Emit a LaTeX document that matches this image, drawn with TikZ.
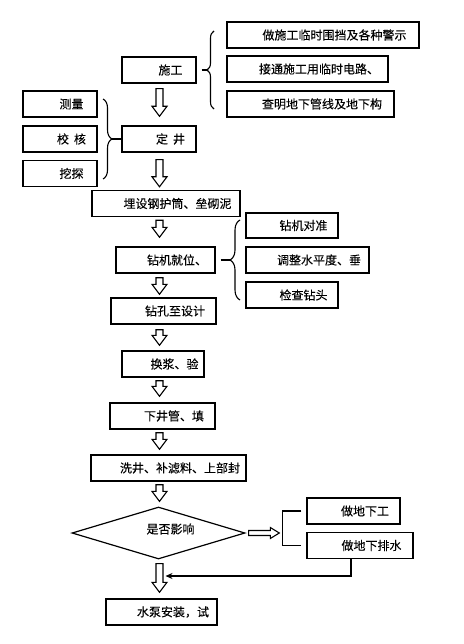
\documentclass[tikz,border=0pt]{standalone}
\usepackage{fontspec}
\setmainfont{Noto Sans CJK SC}[BoldFont=Noto Sans CJK SC, BoldFeatures={FakeBold=0.12}]
\usepackage{tikz}
\usetikzlibrary{positioning,calc,shapes.geometric,decorations.pathreplacing,arrows.meta}

\tikzset{
	box/.style={draw, line width=1.4pt, minimum height=26pt, inner sep=0pt,
		font=\fontsize{12}{14}\selectfont\bfseries, execute at begin node=\hspace*{23pt}},
	hollow/.style={draw, line width=1.1pt, fill=white, line join=miter},
	brc/.style={decorate, decoration={brace, amplitude=#1}, line width=1.1pt},
	link/.style={line width=1.1pt}
}

% hollow block arrow down the main column: from, to, gap at start, gap at end
\newcommand{\hdown}[4]{%
	\draw[hollow] let \p1=($(#1.south -| axis)+(0,#3)$), \p2=($(#2.north -| axis)-(0,#4)$) in
		(\x1-3.5pt,\y1) -- (\x1+3.5pt,\y1) -- (\x1+3.5pt,\y2+10pt) -- (\x1+7.5pt,\y2+10pt)
		-- (\x1,\y2) -- (\x1-7.5pt,\y2+10pt) -- (\x1-3.5pt,\y2+10pt) -- cycle;}

\begin{document}
\begin{tikzpicture}[x=1pt,y=-1pt]
\useasboundingbox (0,0) rectangle (463,644);
\coordinate (axis) at (159.5,0);

	\node[box, minimum width=74pt] (sg) at (159,70) {施工};
	\node[box, minimum width=192pt] (wd1) at (323,35) {做施工临时围挡及各种警示};
	\node[box, minimum width=161pt] (wd2) at (307.5,69) {接通施工用临时电路、};
	\node[box, minimum width=167pt] (wd3) at (310.5,104) {查明地下管线及地下构};
	\node[box, minimum width=74pt] (cl) at (60,104) {测量};
	\node[box, minimum width=74pt] (jh) at (60,139) {校\hspace{5pt}核};
	\node[box, minimum width=74pt] (wt) at (60,173.5) {挖探};
	\node[box, minimum width=74pt] (dj) at (159,139) {定\hspace{5pt}井};
	\node[box, minimum width=148pt] (mx) at (166,203.5) {埋设钢护筒、垒砌泥};
	\node[box, minimum width=99pt] (zj) at (165.5,260) {钻机就位、};
	\node[box, minimum width=92pt, minimum height=25pt] (dz) at (292,225.5) {钻机对准};
	\node[box, minimum width=123pt] (tz) at (307.5,260) {调整水平度、垂};
	\node[box, minimum width=92pt] (jc) at (292,295) {检查钻头};
	\node[box, minimum width=105pt] (zk) at (163.5,311) {钻孔至设计};
	\node[box, minimum width=82pt] (hj) at (163,364) {换浆、验};
	\node[box, minimum width=105pt] (xj) at (162.5,416) {下井管、填};
	\node[box, minimum width=155pt] (xw) at (168.5,468) {洗井、补滤料、上部封};
	\node[draw, diamond, aspect=3.3, minimum width=173pt, minimum height=52pt, inner sep=0pt,
		line width=1.2pt] (pd) at (158.5,533) {};
	\node[font=\fontsize{12}{14}\selectfont\bfseries, inner sep=0pt] (pdtext) at (170.5,529) {是否影响};
	\node[box, minimum width=93pt] (dg1) at (353.5,511) {做地下工};
	\node[box, minimum width=106pt] (dg2) at (360,545.5) {做地下排水};
	\node[box, minimum width=111pt] (sb) at (161.5,612) {水泵安装，试};

	% braces
	\coordinate (t1) at (207,70);
	\coordinate (t2) at (112,139);
	\coordinate (t3) at (230,260);
	\draw[brc=7pt] (214,109) -- (214,31);
	\draw[link] ($(sg.east)+(5,0)$) -- (t1);
	\draw[brc=9pt] (103,99) -- (103,179);
	\draw[link] (t2) -- (dj.west);
	\draw[brc=10pt] (240,300) -- (240,220);
	\draw[link] ($(zj.east)+(5,0)$) -- (t3);
	\draw[line width=1.3pt] ($(dg1.west)+(-5,0)$) -| ($(dg2.west)+(-24,0)$) -- ($(dg2.west)+(-5,0)$);

	% main column
	\hdown{sg}{dj}{5}{9}
	\hdown{dj}{mx}{7}{3}
	\hdown{mx}{zj}{3}{9}
	\hdown{zj}{zk}{4}{3}
	\hdown{zk}{hj}{5}{5}
	\hdown{hj}{xj}{3}{6}
	\hdown{xj}{xw}{3}{5}
	\hdown{xw}{pd}{3}{5}
	\hdown{pd}{sb}{4}{6}

	\draw[hollow] let \p1=($(pd.east)+(3,0)$), \p2=($(dg1.west)+(-27,0)$) in
		(\x1,\y1+2.5pt) -- (\x2-9pt,\y1+2.5pt) -- (\x2-9pt,\y1+5.5pt) -- (\x2,\y1)
		-- (\x2-9pt,\y1-5.5pt) -- (\x2-9pt,\y1-2.5pt) -- (\x1,\y1-2.5pt) -- cycle;

	\coordinate (fb) at (351,576);
	\draw[link, -{Stealth[length=7pt,width=6pt]}] (dg2.south -| fb) -- (fb) -- ($(fb -| axis)+(6,0)$);
\end{tikzpicture}
\end{document}
